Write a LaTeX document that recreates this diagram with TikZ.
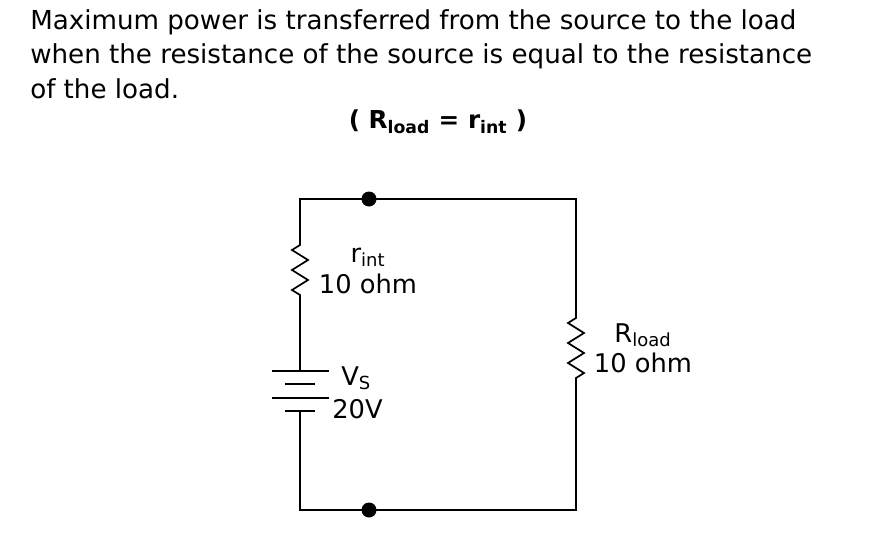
\documentclass[tikz,border=0pt]{standalone}
\usepackage{fontspec}
\setmainfont{DejaVu Sans}
\begin{document}
\begin{tikzpicture}[x=0.75pt,y=-0.75pt,
  w/.style={line width=1.3pt},
  txt/.style={inner sep=0pt,anchor=base west,font=\fontsize{19.6}{22}\selectfont},
  lab/.style={inner sep=0pt,font=\fontsize{19.3}{21}\selectfont}]
\useasboundingbox[fill=white] (0,0) rectangle (886,554);
\node[txt] (l1) at (30,29) {Maximum power is transferred from the source to the load};
\node[txt] (l2) at (30,63) {when the resistance of the source is equal to the resistance};
\node[txt] (l3) at (30,98) {of the load.};
\node[inner sep=0pt,anchor=base,font=\bfseries\fontsize{18.5}{20}\selectfont] (f) at (438,128) {( R\textsubscript{load} = r\textsubscript{int} )};
% circuit
\coordinate (tl) at (300,199); \coordinate (tr) at (576,199);
\coordinate (bl) at (300,510); \coordinate (br) at (576,510);
\draw[w] (300,371) -- (300,298) -- ++(0,-3) -- ++(-8,-5) -- ++(16,-10) -- ++(-16,-10) -- ++(16,-10) -- ++(-16,-10) -- ++(8,-5) -- (300,238) -- (tl) -- (tr) -- (576,318)
 -- ++(-8,5) -- ++(16,10) -- ++(-16,10) -- ++(16,10) -- ++(-16,10) -- ++(16,10) -- ++(-8,5) -- (br) -- (bl) -- (300,411);
\draw[w] (272,371) -- (329,371);
\draw[w] (285,384) -- (315,384);
\draw[w] (272,398) -- (329,398);
\draw[w] (285,411) -- (315,411);
\fill (369,199) circle (7.5);
\fill (369,510) circle (7.5);
\node[lab] (ri) at (368,257) {r\textsubscript{int}};
\node[lab] (rv) at (368,284) {10 ohm};
\node[lab] (Rl) at (643,335) {R\textsubscript{load}};
\node[lab] (Rv) at (643,363) {10 ohm};
\node[lab,anchor=west] (vs) at (341,378) {V\textsubscript{S}};
\node[lab,anchor=west] (vv) at (332,409) {20V};
\end{tikzpicture}
\end{document}
